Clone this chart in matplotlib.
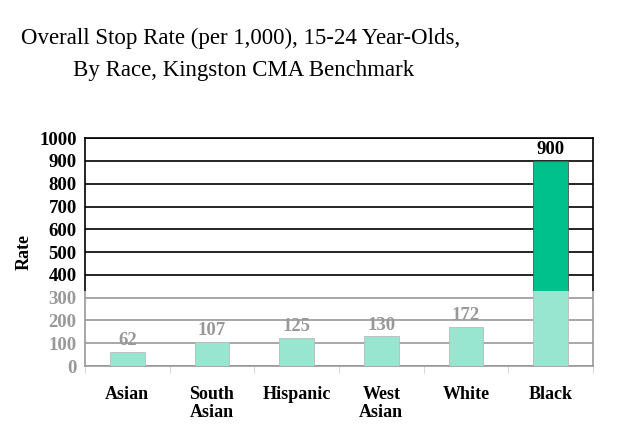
import matplotlib
matplotlib.use("Agg")
import matplotlib.pyplot as plt
from matplotlib.patches import Rectangle

races = ["Asian", "South\nAsian", "Hispanic", "West\nAsian", "White", "Black"]
rates = [62, 107, 125, 130, 172, 900]
yticks = [0, 100, 200, 300, 400, 500, 600, 700, 800, 900, 1000]

bar_color = "#00C08C"
serif = ["Liberation Serif", "DejaVu Serif"]

plt.rcParams["font.family"] = serif

fig = plt.figure(figsize=(6.39, 4.47), dpi=100)
ax = fig.add_axes([0.133, 0.181, 0.795, 0.510])

x = range(len(races))
ax.bar(x, rates, width=0.41, color=bar_color, edgecolor="#555555", linewidth=0.6, zorder=3)
for xi, v in zip(x, rates):
    ax.text(xi, v + 12, str(v), ha="center", va="bottom", fontsize=13.5,
            fontweight="bold", zorder=4)

ax.set_xlim(-0.5, len(races) - 0.5)
ax.set_ylim(0, 1000)
ax.set_yticks(yticks)
ax.set_yticklabels([str(t) for t in yticks], fontsize=13.5, fontweight="bold")
ax.yaxis.grid(True, color="black", linewidth=1.2, zorder=0)
ax.set_axisbelow(True)
ax.tick_params(axis="y", length=0, pad=6)

ax.set_xticks(list(x))
ax.set_xticklabels(races, fontsize=13, fontweight="bold", linespacing=1.15)
ax.set_xticks([i + 0.5 for i in range(-1, len(races))], minor=True)
ax.tick_params(axis="x", which="major", length=0, pad=14)
ax.tick_params(axis="x", which="minor", length=5, color="#888888", direction="out")

for side in ["left", "right", "top", "bottom"]:
    ax.spines[side].set_color("black")
    ax.spines[side].set_linewidth(1.2)

ax.set_ylabel("Rate", fontsize=13, fontweight="bold", labelpad=5)

fig.text(0.377, 0.913, "Overall Stop Rate (per 1,000), 15-24 Year-Olds,",
         ha="center", va="center", fontsize=16.5)
fig.text(0.381, 0.842, "By Race, Kingston CMA Benchmark",
         ha="center", va="center", fontsize=16.5)

# faded band across the lower part of the picture
fig.patches.append(Rectangle((0.0, 0.163), 0.945, 0.186, transform=fig.transFigure,
                             facecolor="white", alpha=0.6, edgecolor="none", zorder=10))

fig.savefig("out.png", dpi=100)
